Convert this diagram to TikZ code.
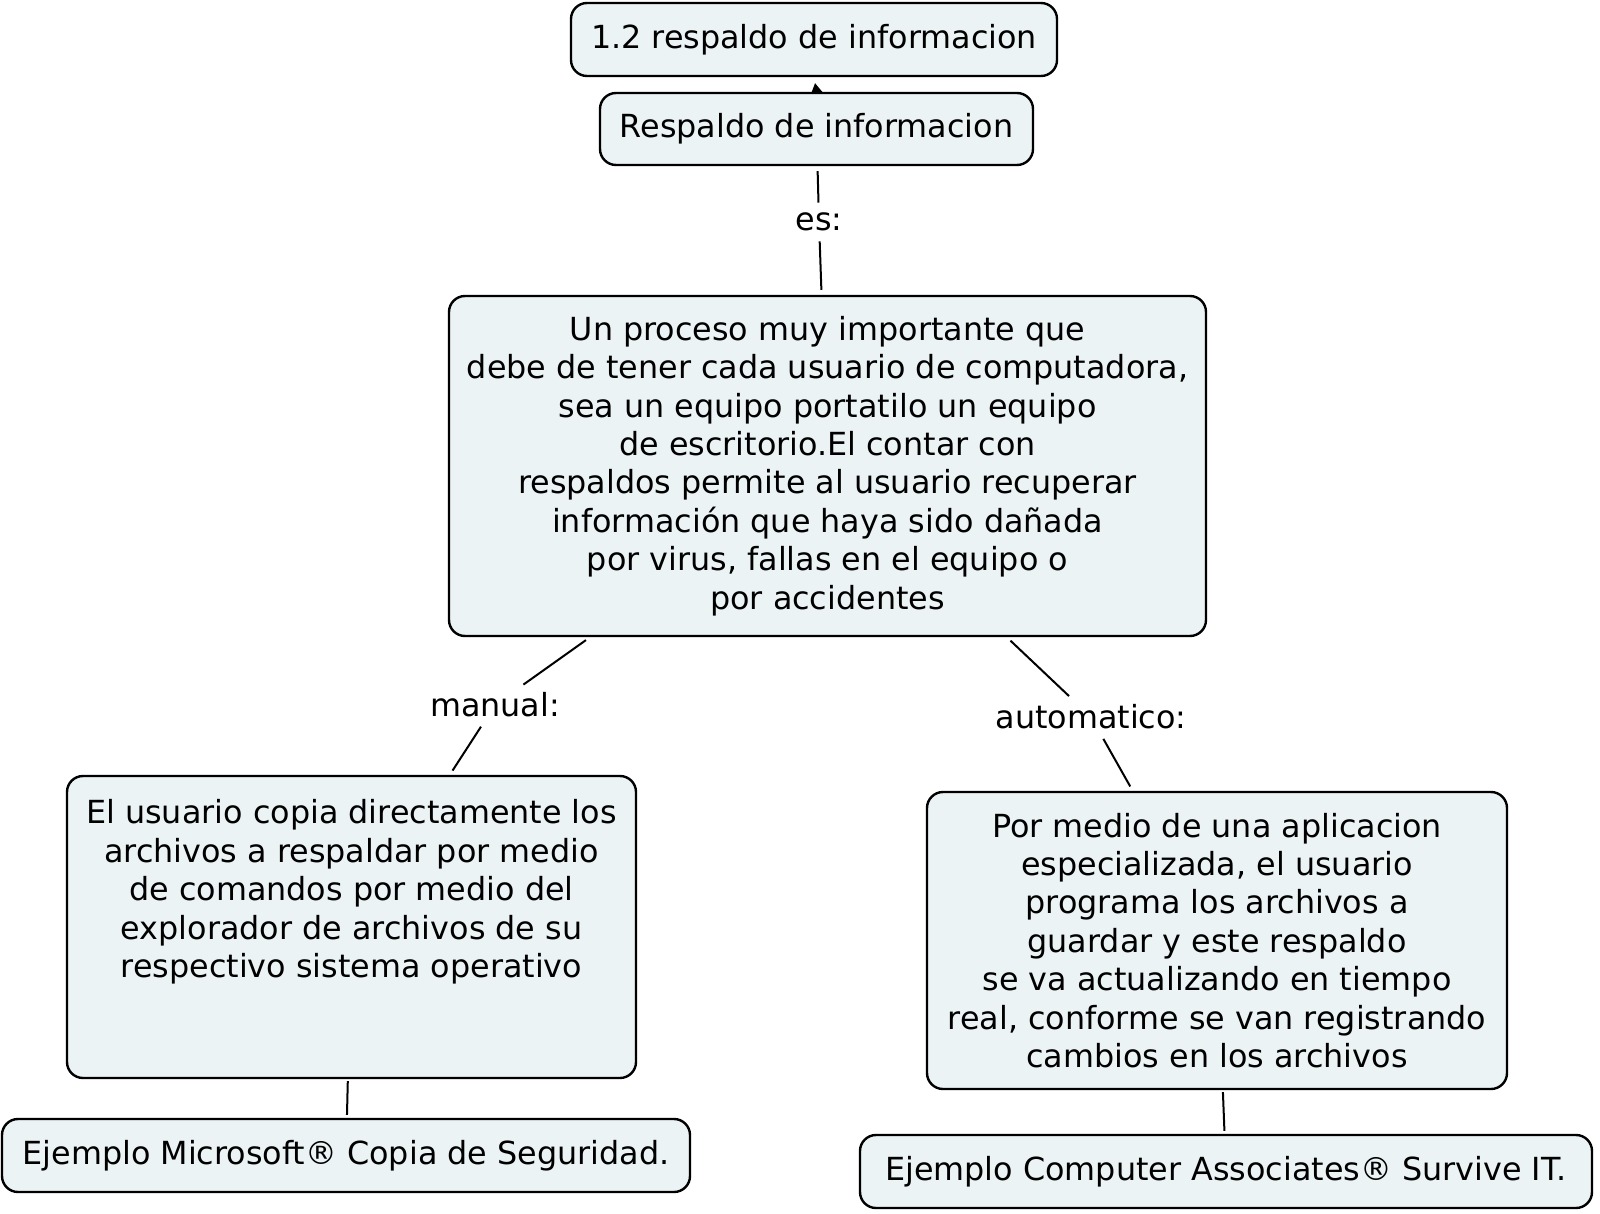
\documentclass[tikz,border=0pt]{standalone}
\usepackage{fontspec}
\setmainfont{DejaVu Sans}
\usetikzlibrary{arrows.meta}
\definecolor{boxfill}{RGB}{235,243,245}
\begin{document}
\begin{tikzpicture}[x=1pt,y=-1pt,
  box/.style={draw=black, line width=2.4pt, fill=boxfill, rounded corners=16pt,
    align=center, inner sep=0pt, font=\fontsize{31.8}{38.4}\selectfont},
  lbl/.style={align=center, inner sep=5pt, font=\fontsize{31.8}{38.4}\selectfont},
  conn/.style={draw=black, line width=2pt, shorten <=5pt, shorten >=5pt}]
\useasboundingbox (0,0) rectangle (1600,1214);
\node[box, minimum width=486pt, minimum height=73pt] (n1) at (814,39.5) {1.2 respaldo de informacion};
\node[box, minimum width=433pt, minimum height=72pt] (n2) at (816.5,129) {Respaldo de informacion};
\node[lbl] (es) at (819,222) {es:};
\node[box, minimum width=757pt, minimum height=340pt] (n3) at (827.5,466) {Un proceso muy importante que\\
debe de tener cada usuario de computadora,\\
sea un equipo portatilo un equipo\\
de escritorio.El contar con\\
respaldos permite al usuario recuperar\\
información que haya sido dañada\\
por virus, fallas en el equipo o\\
por accidentes};
\node[lbl] (man) at (495,705) {manual:};
\node[lbl] (aut) at (1091,717) {automatico:};
\node[box, minimum width=569pt, minimum height=302pt] (lb) at (351.5,927) {El usuario copia directamente los\\
archivos a respaldar por medio\\
de comandos por medio del\\
explorador de archivos de su\\
respectivo sistema operativo\\ ~\\ ~};
\node[box, minimum width=580pt, minimum height=297pt] (rb) at (1217,940.5) {Por medio de una aplicacion\\
especializada, el usuario\\
programa los archivos a\\
guardar y este respaldo\\
se va actualizando en tiempo\\
real, conforme se van registrando\\
cambios en los archivos};
\node[box, minimum width=688pt, minimum height=73pt] (ex1) at (346,1155.5) {Ejemplo Microsoft® Copia de Seguridad.};
\node[box, minimum width=732pt, minimum height=73pt] (ex2) at (1226,1171.5) {Ejemplo Computer Associates® Survive IT.};
% connectors
\draw[line width=2pt, -{Triangle[length=10pt,width=11pt]}, shorten >=6pt, shorten <=0pt] (n2.north) -- (n1.south);
\draw[conn] (n2) -- (es);
\draw[conn] (es) -- (n3);
\draw[conn] (n3) -- (man);
\draw[conn] (man) -- (lb);
\draw[conn] (n3) -- (aut);
\draw[conn] (aut) -- (rb);
\draw[conn, shorten <=2pt, shorten >=3pt] (lb) -- (ex1);
\draw[conn, shorten <=2pt, shorten >=3pt] (rb) -- (ex2);
\end{tikzpicture}
\end{document}
